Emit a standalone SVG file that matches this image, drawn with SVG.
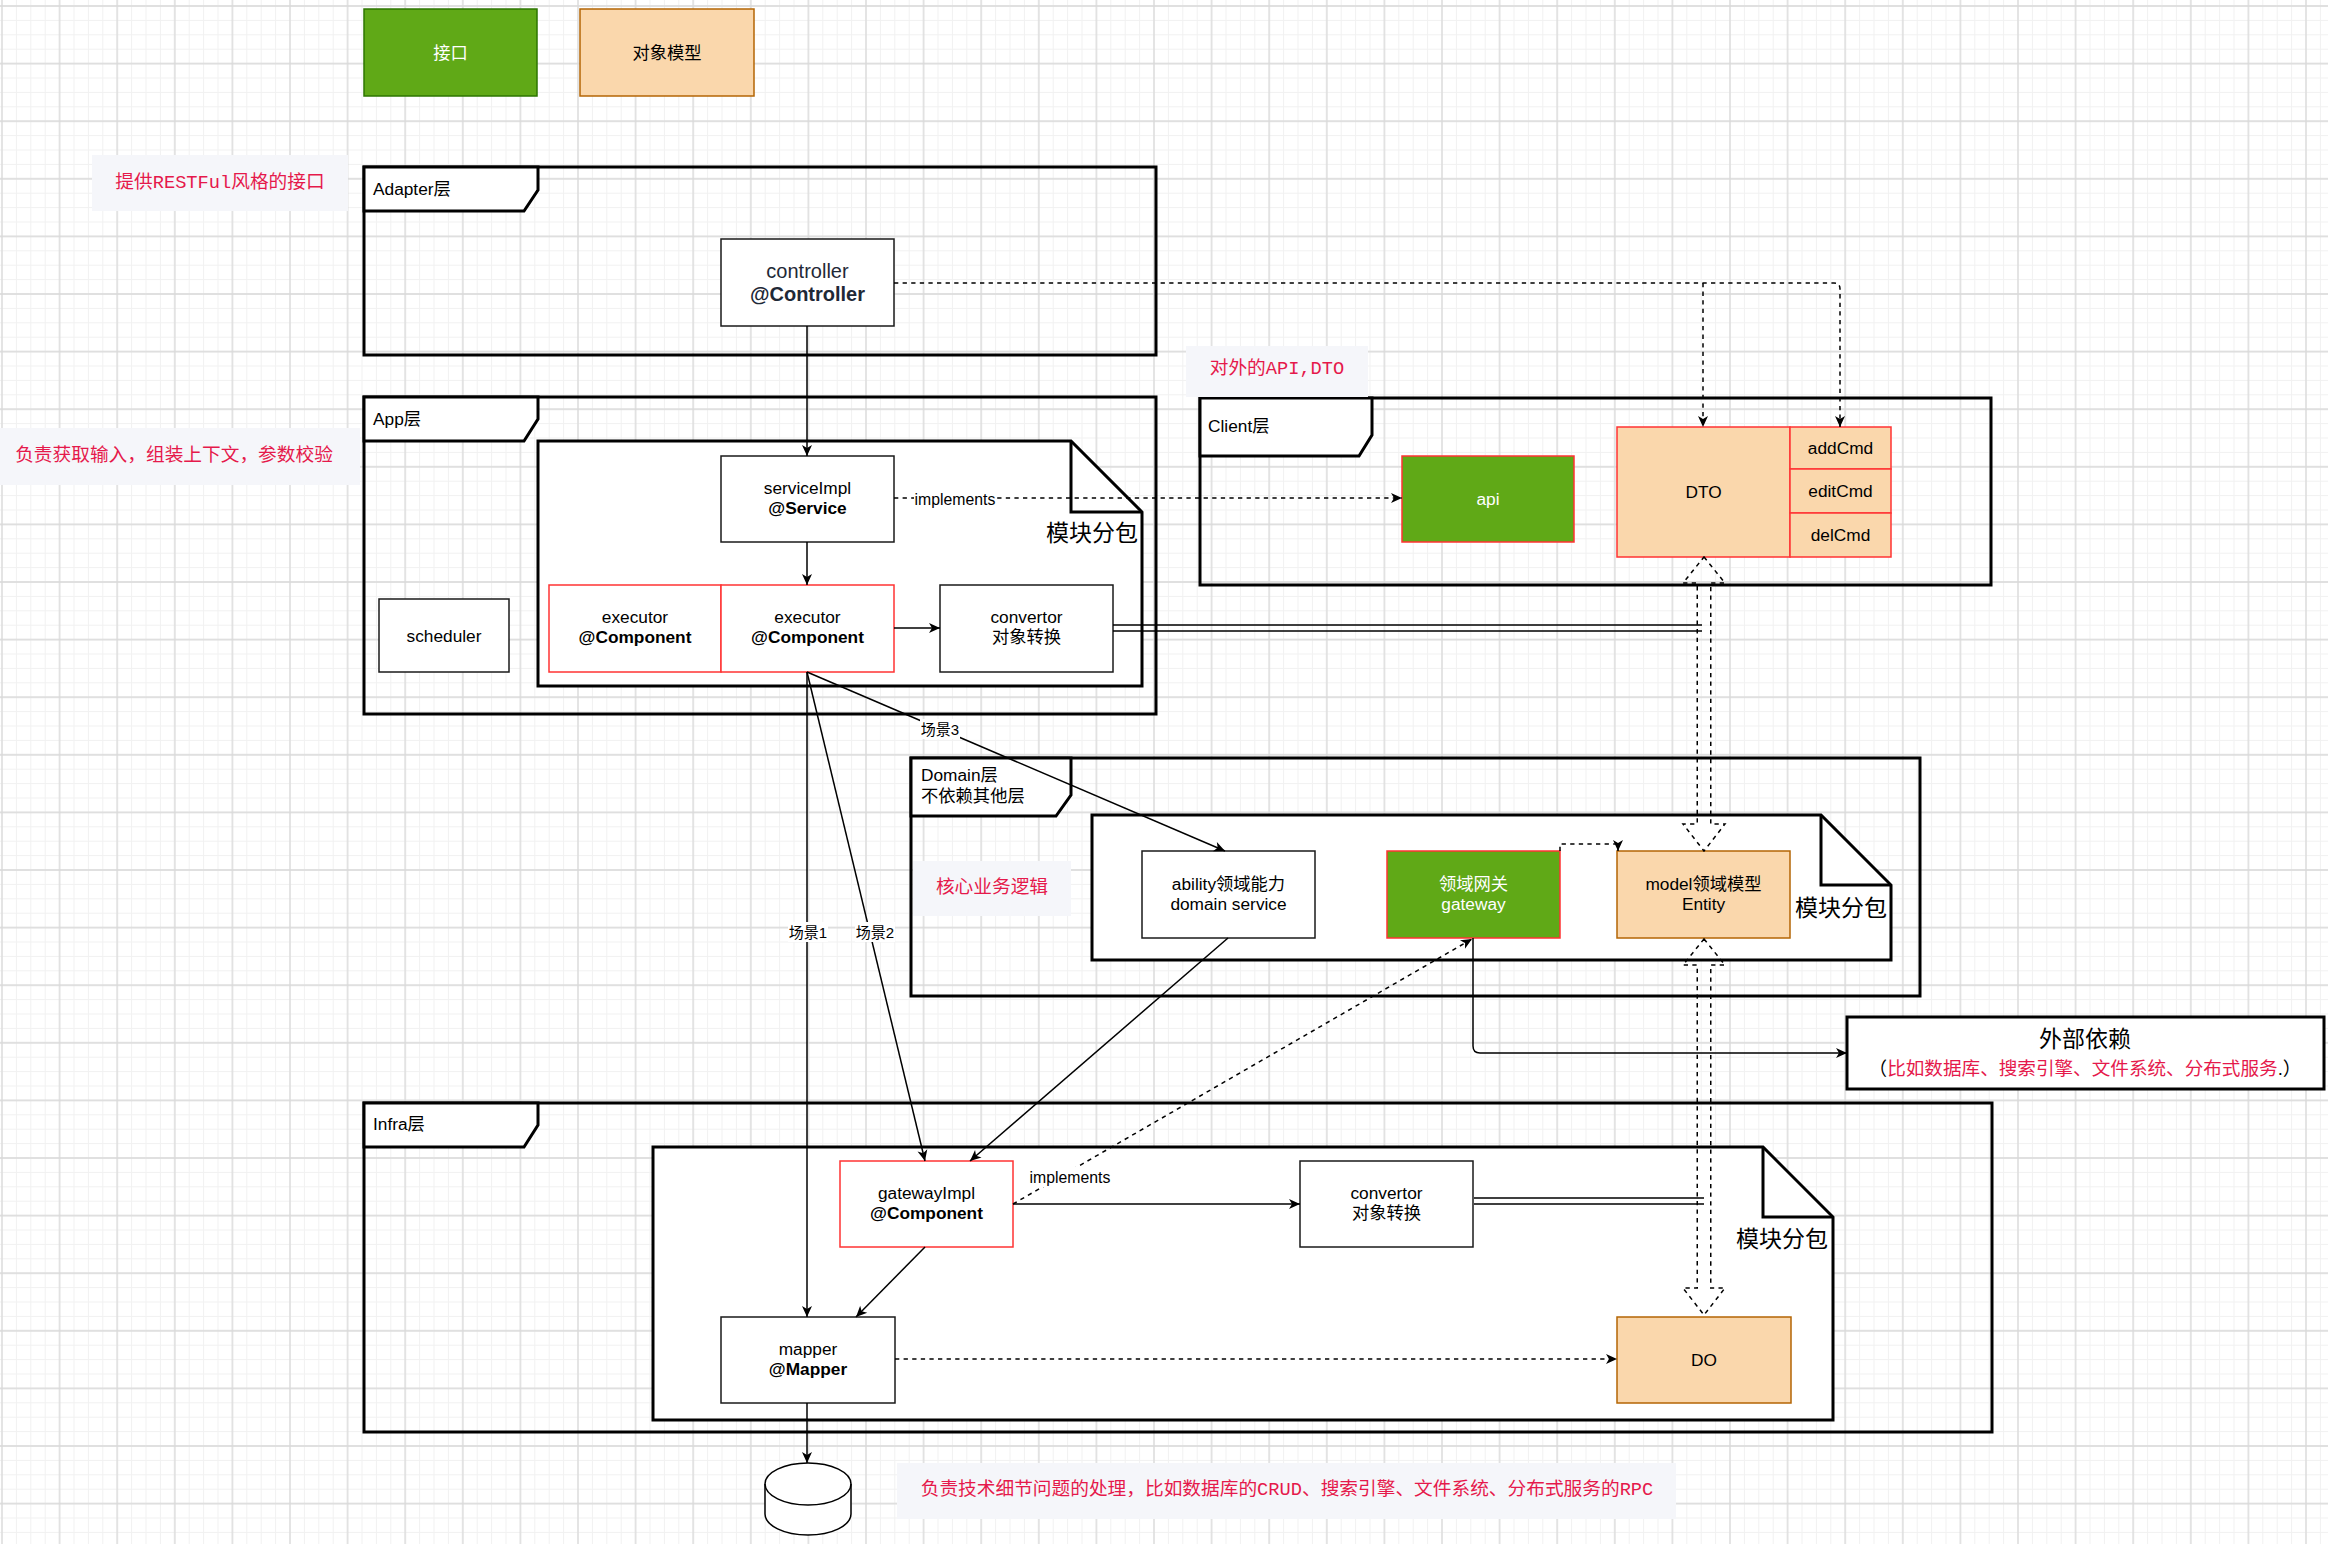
<svg xmlns="http://www.w3.org/2000/svg" width="2328" height="1544" viewBox="0 0 2328 1544">
<defs>
<pattern id="gMinor" x="-5.2" y="-1.2" width="14.4" height="14.4" patternUnits="userSpaceOnUse"><path d="M7.2,0 V14.4 M0,7.2 H14.4" stroke="#f1f1f1" stroke-width="1" fill="none"/></pattern>
<pattern id="gMajor" x="-26.8" y="-22.8" width="57.6" height="57.6" patternUnits="userSpaceOnUse"><path d="M28.8,0 V57.6 M0,28.8 H57.6" stroke="#d9d9d9" stroke-width="1.3" fill="none"/></pattern>
<marker id="arr" viewBox="-12 -6 13 12" refX="0" refY="0" markerWidth="13" markerHeight="12" markerUnits="userSpaceOnUse" orient="auto"><path d="M0,0 L-11,-5 L-8,0 L-11,5 Z" fill="#000"/></marker>
</defs>
<style>
text{font-family:"Liberation Sans","Noto Sans CJK SC",sans-serif;font-size:17.3px;fill:#000;text-anchor:middle;dominant-baseline:central}
.l{text-anchor:start}
.b{font-weight:bold}
.w{fill:#fff}
.nav{fill:#1f2937;font-size:20px}
.box{fill:#fff;stroke:#1a1a1a;stroke-width:1.5}
.red{fill:#fff;stroke:#ff3333;stroke-width:1.5}
.grn{fill:#60a917;stroke:#ff3333;stroke-width:1.5}
.org{fill:#fad7ac;stroke:#b46504;stroke-width:1.5}
.orr{fill:#fad7ac;stroke:#ff3333;stroke-width:1.5}
.layer{fill:none;stroke:#000;stroke-width:3}
.tab{fill:#fff;stroke:#000;stroke-width:3}
.pkg{fill:#fff;stroke:#000;stroke-width:3}
.nbg{fill:#f5f6fa}
.note{fill:#e5194b;font-size:18.7px;font-family:"Liberation Mono","Noto Sans CJK SC",monospace}
.big{font-size:23px}
.e{fill:none;stroke:#000;stroke-width:1.5}
.d{stroke-dasharray:4.3 4.3}
.lbl{font-size:15px}
.lbg{fill:#fff}
</style>
<rect width="2328" height="1544" fill="#fff"/>
<rect width="2328" height="1544" fill="url(#gMinor)"/>
<rect width="2328" height="1544" fill="url(#gMajor)"/>

<g id="legend-interface"><rect x="364" y="9" width="173" height="87" fill="#60a917" stroke="#2d7600" stroke-width="1.5"/><text x="450.5" y="52.5" class="w">接口</text></g>
<g id="legend-model"><rect x="580" y="9" width="174" height="87" class="org"/><text x="667" y="52.5">对象模型</text></g>

<g id="layer-adapter"><rect x="364" y="167" width="792" height="188" class="layer"/><path d="M364,167 H538 V190 L524,211 H364 Z" class="tab"/><text x="373" y="189" class="l">Adapter层</text></g>
<g id="layer-app"><rect x="364" y="397" width="792" height="317" class="layer"/><path d="M364,397 H538 V419 L524,441 H364 Z" class="tab"/><text x="373" y="419" class="l">App层</text></g>
<g id="layer-client"><rect x="1200" y="398" width="791" height="187" class="layer"/><path d="M1200,398 H1372 V435 L1359,456 H1200 Z" class="tab"/><text x="1208" y="426" class="l">Client层</text></g>
<g id="layer-domain"><rect x="911" y="758" width="1009" height="238" class="layer"/><path d="M911,758 H1071 V795 L1056,816 H911 Z" class="tab"/><text x="921" y="775" class="l">Domain层</text><text x="921" y="796" class="l">不依赖其他层</text></g>
<g id="layer-infra"><rect x="364" y="1103" width="1628" height="329" class="layer"/><path d="M364,1103 H538 V1125 L524,1147 H364 Z" class="tab"/><text x="373" y="1124" class="l">Infra层</text></g>

<g id="pkg-app"><path d="M538,441 H1071 L1142,512 V686 H538 Z" class="pkg"/><path d="M1071,441 V512 H1142" class="layer"/><text x="1138" y="533" class="big" style="text-anchor:end">模块分包</text></g>
<g id="pkg-domain"><path d="M1092,815 H1821 L1891,885 V960 H1092 Z" class="pkg"/><path d="M1821,815 V885 H1891" class="layer"/><text x="1887" y="908" class="big" style="text-anchor:end">模块分包</text></g>
<g id="pkg-infra"><path d="M653,1147 H1763 L1833,1217 V1420 H653 Z" class="pkg"/><path d="M1763,1147 V1217 H1833" class="layer"/><text x="1828" y="1239" class="big" style="text-anchor:end">模块分包</text></g>

<g id="note-adapter"><rect x="92" y="155" width="256" height="56" class="nbg"/><text x="220" y="183" class="note">提供RESTFul风格的接口</text></g>
<g id="note-app"><rect x="0" y="428" width="360" height="57" class="nbg"/><text x="174" y="456" class="note">负责获取输入，组装上下文，参数校验</text></g>
<g id="note-client"><rect x="1186" y="346" width="182" height="51" class="nbg"/><text x="1277" y="369" class="note">对外的API,DTO</text></g>
<g id="note-domain"><rect x="913" y="861" width="158" height="55" class="nbg"/><text x="992" y="888" class="note">核心业务逻辑</text></g>
<g id="note-infra"><rect x="897" y="1463" width="779" height="56" class="nbg"/><text x="1287" y="1490" class="note">负责技术细节问题的处理，比如数据库的CRUD、搜索引擎、文件系统、分布式服务的RPC</text></g>

<g id="controller"><rect x="721" y="239" width="173" height="87" class="box"/><text x="807.5" y="271" class="nav">controller</text><text x="807.5" y="294" class="nav b">@Controller</text></g>
<g id="serviceImpl"><rect x="721" y="456" width="173" height="86" class="box"/><text x="807.5" y="488">serviceImpl</text><text x="807.5" y="508" class="b">@Service</text></g>
<g id="executor1"><rect x="549" y="585" width="172" height="87" class="red"/><text x="635" y="617">executor</text><text x="635" y="637" class="b">@Component</text></g>
<g id="executor2"><rect x="721" y="585" width="173" height="87" class="red"/><text x="807.5" y="617">executor</text><text x="807.5" y="637" class="b">@Component</text></g>
<g id="convertor-app"><rect x="940" y="585" width="173" height="87" class="box"/><text x="1026.5" y="617">convertor</text><text x="1026.5" y="637">对象转换</text></g>
<g id="scheduler"><rect x="379" y="599" width="130" height="73" class="box"/><text x="444" y="636">scheduler</text></g>

<g id="api"><rect x="1402" y="456" width="172" height="86" class="grn"/><text x="1488" y="499" class="w">api</text></g>
<g id="dto"><rect x="1617" y="427" width="173" height="130" class="orr"/><text x="1703.5" y="492">DTO</text></g>
<g id="addCmd"><rect x="1790" y="427" width="101" height="42" class="orr"/><text x="1840.5" y="448">addCmd</text></g>
<g id="editCmd"><rect x="1790" y="469" width="101" height="44" class="orr"/><text x="1840.5" y="491">editCmd</text></g>
<g id="delCmd"><rect x="1790" y="513" width="101" height="44" class="orr"/><text x="1840.5" y="535">delCmd</text></g>

<g id="ability"><rect x="1142" y="851" width="173" height="87" class="box"/><text x="1228.5" y="884">ability领域能力</text><text x="1228.5" y="904">domain service</text></g>
<g id="gateway"><rect x="1387" y="851" width="173" height="87" class="grn"/><text x="1473.5" y="884" class="w">领域网关</text><text x="1473.5" y="904" class="w">gateway</text></g>
<g id="model"><rect x="1617" y="851" width="173" height="87" class="org"/><text x="1703.5" y="884">model领域模型</text><text x="1703.5" y="904">Entity</text></g>

<g id="external"><rect x="1847" y="1017" width="477" height="72" fill="#fff" stroke="#000" stroke-width="3"/><text x="2085" y="1039" class="big">外部依赖</text><text x="2085" y="1068" style="font-size:18.6px">（<tspan fill="#e5194b">比如数据库、搜索引擎、文件系统、分布式服务</tspan>.）</text></g>

<g id="gatewayImpl"><rect x="840" y="1161" width="173" height="86" class="red"/><text x="926.5" y="1193">gatewayImpl</text><text x="926.5" y="1213" class="b">@Component</text></g>
<g id="convertor-infra"><rect x="1300" y="1161" width="173" height="86" class="box"/><text x="1386.5" y="1193">convertor</text><text x="1386.5" y="1213">对象转换</text></g>
<g id="mapper"><rect x="721" y="1317" width="174" height="86" class="box"/><text x="808" y="1349">mapper</text><text x="808" y="1369" class="b">@Mapper</text></g>
<g id="do"><rect x="1617" y="1317" width="174" height="86" class="org"/><text x="1704" y="1360">DO</text></g>
<g id="database"><path d="M765,1484 A43,21 0 0 1 851,1484 V1514 A43,21 0 0 1 765,1514 Z" fill="#fff" stroke="#000" stroke-width="1.5"/><path d="M765,1484 A43,21 0 0 0 851,1484" fill="none" stroke="#000" stroke-width="1.5"/></g>

<g id="connectors">
<path d="M807,326 V456" class="e" marker-end="url(#arr)"/>
<path d="M807,542 V585" class="e" marker-end="url(#arr)"/>
<path d="M894,628 H940" class="e" marker-end="url(#arr)"/>
<path d="M894,498 H1402" class="e d" marker-end="url(#arr)"/>
<rect x="914" y="489" width="82" height="20" class="lbg"/><text x="955" y="499" style="font-size:15.8px">implements</text>
<path d="M894,283 H1834 Q1840,283 1840,289 V427" class="e d" marker-end="url(#arr)"/>
<path d="M1703,283 V427" class="e d" marker-end="url(#arr)"/>
<path d="M1113,625 H1702 M1113,631 H1702" class="e"/>
<path d="M1704,557 L1725,583 L1710.75,583 L1710.75,824 L1725,824 L1704,851 L1683,824 L1697.25,824 L1697.25,583 L1683,583 Z" class="e d"/>
<path d="M807,672 L1225,851" class="e" marker-end="url(#arr)"/>
<rect x="920" y="719" width="40" height="20" class="lbg"/><text x="940" y="729" class="lbl">场景3</text>
<path d="M807,672 V1317" class="e" marker-end="url(#arr)"/>
<rect x="788" y="922" width="40" height="20" class="lbg"/><text x="808" y="932" class="lbl">场景1</text>
<path d="M807,672 L925,1161" class="e" marker-end="url(#arr)"/>
<rect x="855" y="922" width="40" height="20" class="lbg"/><text x="875" y="932" class="lbl">场景2</text>
<path d="M1228,938 L970,1161" class="e" marker-end="url(#arr)"/>
<path d="M1560,851 V844 H1618 V851" class="e d" marker-end="url(#arr)"/>
<path d="M1473,938 V1046 Q1473,1053 1480,1053 H1847" class="e" marker-end="url(#arr)"/>
<path d="M1704,939 L1725,965 L1710.75,965 L1710.75,1288 L1725,1288 L1704,1315 L1683,1288 L1697.25,1288 L1697.25,965 L1683,965 Z" class="e d"/>
<path d="M1013,1204 L1472,939" class="e d" marker-end="url(#arr)"/>
<rect x="1029" y="1167" width="83" height="20" class="lbg"/><text x="1070" y="1177" style="font-size:15.8px">implements</text>
<path d="M1013,1204 H1300" class="e" marker-end="url(#arr)"/>
<path d="M1474,1198 H1704 M1474,1204 H1704" class="e"/>
<path d="M925,1247 L856,1317" class="e" marker-end="url(#arr)"/>
<path d="M895,1359 H1617" class="e d" marker-end="url(#arr)"/>
<path d="M807,1403 V1463" class="e" marker-end="url(#arr)"/>
</g>
</svg>
